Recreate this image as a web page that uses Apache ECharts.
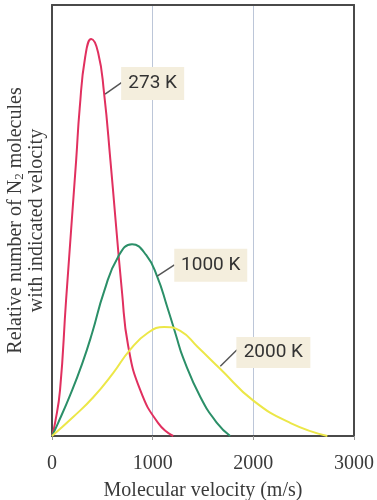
<!DOCTYPE html>
<html>
<head>
<meta charset="utf-8">
<script src="https://cdn.jsdelivr.net/npm/echarts@6/dist/echarts.min.js"></script>
<style>
  html, body { margin: 0; padding: 0; background: #fff; }
  #chart { width: 377px; height: 500px; }
</style>
</head>
<body>
<div id="chart"></div>
<script>
  // velocity (m/s) and relative number of molecules
  var v273 = [0, 30, 80, 140, 240, 275, 330, 390, 458, 517, 580, 697, 756, 876, 1055, 1204];
  var n273 = [0, 0.03, 0.107, 0.316, 0.64, 0.76, 0.88, 0.921, 0.89, 0.796, 0.64, 0.33, 0.21, 0.107, 0.03, 0];

  var v1000 = [0, 60, 180, 300, 400, 517, 655, 795, 935, 1045, 1144, 1230, 1305, 1475, 1640, 1770];
  var n1000 = [0, 0.03, 0.095, 0.168, 0.24, 0.335, 0.415, 0.445, 0.42, 0.37, 0.3, 0.235, 0.18, 0.09, 0.03, 0];

  var v2000 = [0, 210, 410, 607, 775, 950, 1115, 1275, 1445, 1670, 2000, 2370, 2735];
  var n2000 = [0, 0.044, 0.09, 0.146, 0.2, 0.239, 0.253, 0.244, 0.207, 0.156, 0.082, 0.03, 0];

  var seriesNames = ['273 K', '1000 K', '2000 K'];
  var xTicks = [0, 1000, 2000, 3000];

  function pairs (xs, ys) {
    return xs.map(function (x, i) { return [x, ys[i]] })
  }

  var chart = echarts.init(document.getElementById('chart'))

  var serif = 'Liberation Serif'
  var sans = 'Roboto'
  var frame = '#4a4a4a'

  function tag (name, center, size, from, to) {
    return {
      markPoint: {
        silent: true,
        symbol: 'rect',
        symbolSize: size,
        itemStyle: { color: '#f4eedd' },
        label: {
          show: true,
          formatter: name,
          color: '#333',
          fontFamily: sans,
          fontSize: 19
        },
        data: [{ coord: center }]
      },
      markLine: {
        silent: true,
        symbol: ['none', 'none'],
        lineStyle: { color: '#555', width: 1.5, type: 'solid' },
        label: { show: false },
        data: [[{ coord: from }, { coord: to }]]
      }
    }
  }

  var t1 = tag(seriesNames[0], [1000, 0.818], [63, 33], [527, 0.793], [690, 0.82])
  var t2 = tag(seriesNames[1], [1577, 0.396], [73, 33], [1045, 0.371], [1216, 0.397])
  var t3 = tag(seriesNames[2], [2199, 0.194], [74, 31], [1672, 0.162], [1838, 0.2])

  function curve (name, xs, ys, color, t) {
    return {
      name: name,
      type: 'line',
      data: pairs(xs, ys),
      smooth: 0.5,
      showSymbol: false,
      lineStyle: { color: color, width: 2 },
      itemStyle: { color: color },
      markPoint: t.markPoint,
      markLine: t.markLine
    }
  }

  var option = {
    animation: false,
    grid: { left: 52, right: 23, top: 5, bottom: 64, containLabel: false, outerBoundsMode: 'none' },
    xAxis: [{
      type: 'value',
      min: 0,
      max: 3000,
      interval: 1000,
      name: 'Molecular velocity (m/s)',
      nameLocation: 'middle',
      nameGap: 45,
      nameTextStyle: { fontFamily: serif, fontSize: 20, color: '#3a3a3a' },
      axisLine: { show: true, onZero: false, lineStyle: { color: frame, width: 2 } },
      axisTick: { show: true, length: 4, lineStyle: { color: '#999' } },
      axisLabel: { fontFamily: serif, fontSize: 20, color: '#3a3a3a', margin: 18,
        formatter: function (v) { return xTicks.indexOf(v) >= 0 ? String(v) : '' } },
      splitLine: { show: true, lineStyle: { color: '#bcc6d8', width: 1 } }
    }, {
      type: 'value',
      position: 'top',
      min: 0,
      max: 3000,
      axisLine: { show: true, onZero: false, lineStyle: { color: frame, width: 2 } },
      axisTick: { show: false },
      axisLabel: { show: false },
      splitLine: { show: false }
    }],
    yAxis: [{
      type: 'value',
      min: 0,
      max: 1,
      name: '{a|Relative number of N}{s|2}{a| molecules}\n{a|with indicated velocity}',
      nameLocation: 'middle',
      nameRotate: 90,
      nameGap: 5,
      nameTextStyle: {
        fontFamily: serif,
        color: '#3a3a3a',
        rich: {
          a: { fontFamily: serif, fontSize: 20, lineHeight: 21, color: '#3a3a3a' },
          s: { fontFamily: serif, fontSize: 13, lineHeight: 10, verticalAlign: 'bottom', color: '#3a3a3a' }
        }
      },
      axisLine: { show: true, onZero: false, lineStyle: { color: frame, width: 2 } },
      axisTick: { show: false },
      axisLabel: { show: false },
      splitLine: { show: false }
    }, {
      type: 'value',
      position: 'right',
      min: 0,
      max: 1,
      axisLine: { show: true, onZero: false, lineStyle: { color: frame, width: 2 } },
      axisTick: { show: false },
      axisLabel: { show: false },
      splitLine: { show: false }
    }],
    series: [
      curve(seriesNames[0], v273, n273, '#e1305f', t1),
      curve(seriesNames[1], v1000, n1000, '#2b8f68', t2),
      curve(seriesNames[2], v2000, n2000, '#ece748', t3)
    ]
  }

  chart.setOption(option)
</script>
</body>
</html>
